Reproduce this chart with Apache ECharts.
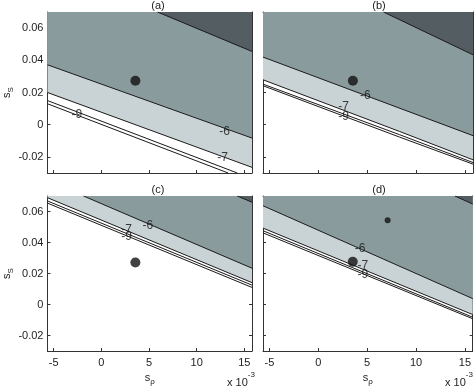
<!DOCTYPE html>
<html><head><meta charset="utf-8">
<script src="https://cdn.jsdelivr.net/npm/echarts@6/dist/echarts.min.js"></script>
<style>html,body{margin:0;padding:0;background:#fff}#c{width:474px;height:387px}</style>
</head><body><div id="c"></div>
<script>
// ---- data ----
const panelTitles = ['(a)', '(b)', '(c)', '(d)'];
const xTicks = [-5, 0, 5, 10, 15];
const yTicks = [-0.02, 0, 0.02, 0.04, 0.06];
const xRange = [-5.65, 15.8];
const yRange = [-0.03, 0.07];
const contourLevels = ['-5', '-6', '-7', '-8', '-9'];

// contour lines (s_rho x1e3, s_S) per panel
const a_lvl5 = [[5.89, 0.07], [15.8, 0.0455]];
const a_lvl6 = [[-5.65, 0.0372], [15.8, -0.0083]];
const a_lvl7 = [[-5.65, 0.020], [15.8, -0.0265]];
const a_lvl8 = [[-5.65, 0.015], [14.26, -0.03]];
const a_lvl9 = [[-5.65, 0.013], [13.3, -0.03]];

const b_lvl5 = [[6.66, 0.07], [15.8, 0.0434]];
const b_lvl6 = [[-5.65, 0.042], [15.8, -0.0068]];
const b_lvl7 = [[-5.65, 0.0279], [8.3, -0.0042], [15.8, -0.0218]];
const b_lvl8 = [[-5.65, 0.0252], [8.3, -0.0062], [15.8, -0.0235]];
const b_lvl9 = [[-5.65, 0.0242], [8.3, -0.0077], [15.8, -0.0245]];

const c_lvl5 = [[14.26, 0.07], [15.8, 0.066]];
const c_lvl6 = [[-1.87, 0.07], [15.8, 0.0234]];
const c_lvl7 = [[-5.65, 0.0689], [15.8, 0.0141]];
const c_lvl8 = [[-5.65, 0.0668], [15.8, 0.0125]];
const c_lvl9 = [[-5.65, 0.0654], [15.8, 0.011]];

const d_lvl5 = [[13.98, 0.07], [15.8, 0.0648]];
const d_lvl6 = [[-5.65, 0.0637], [15.8, 0.0038]];
const d_lvl7 = [[-5.65, 0.0493], [15.8, -0.0065]];
const d_lvl8 = [[-5.65, 0.0476], [15.8, -0.0082]];
const d_lvl9 = [[-5.65, 0.0462], [15.8, -0.0092]];

// contour labels [x, y, text]
const a_labels = [[12.93, -0.0042, '-6'], [12.72, -0.0206, '-7'], [-2.58, 0.0062, '-9']];
const b_labels = [[4.80, 0.0181, '-6'], [2.58, 0.0111, '-7'], [2.58, 0.0051, '-9']];
const c_labels = [[4.87, 0.0509, '-6'], [2.65, 0.0482, '-7'], [2.65, 0.0435, '-9']];
const d_labels = [[4.29, 0.0362, '-6'], [4.55, 0.0251, '-7'], [4.55, 0.0193, '-9']];

// marker points
const a_points = [[3.57, 0.0273]];
const b_points = [[3.53, 0.0273]];
const c_points = [[3.57, 0.0271]];
const d_points = [[3.53, 0.0276]];
const d_smallPoints = [[7.1, 0.0544]];

// ---- styling / layout ----
const grids = [
  {left: 42, top: 12, width: 210, height: 161},
  {left: 263, top: 12, width: 210, height: 161},
  {left: 42, top: 196, width: 210, height: 161},
  {left: 263, top: 196, width: 210, height: 161}
];
const fillLight = '#c9d3d5', fillMid = '#8a9b9d', fillDark = '#535d62';
const lineCol = '#1a1a1a', axisCol = '#333';
const font = 'Liberation Sans, Arial, sans-serif';

const panels = [
  {lines: [a_lvl5, a_lvl6, a_lvl7, a_lvl8, a_lvl9], labels: a_labels, pts: a_points, small: []},
  {lines: [b_lvl5, b_lvl6, b_lvl7, b_lvl8, b_lvl9], labels: b_labels, pts: b_points, small: []},
  {lines: [c_lvl5, c_lvl6, c_lvl7, c_lvl8, c_lvl9], labels: c_labels, pts: c_points, small: []},
  {lines: [d_lvl5, d_lvl6, d_lvl7, d_lvl8, d_lvl9], labels: d_labels, pts: d_points, small: d_smallPoints}
];

const xAxes = [], yAxes = [], series = [], titles = [];
grids.forEach((g, i) => {
  const showX = i >= 2, showY = i % 2 === 0;
  const common = {
    type: 'value', gridIndex: i, min: xRange[0], max: xRange[1],
    splitLine: {show: false},
    axisLine: {show: true, onZero: false, lineStyle: {color: axisCol, width: 1}},
    axisTick: {show: true, inside: true, length: 3, customValues: xTicks, lineStyle: {color: axisCol}},
  };
  xAxes.push(Object.assign({}, common, {
    position: 'bottom',
    axisLabel: {show: showX, customValues: xTicks, color: '#222', fontFamily: font, fontSize: 11, margin: 6},
    name: showX ? '{s|s}{sub|ρ}' : '', nameLocation: 'middle', nameGap: 19,
    nameTextStyle: {rich: {s: {fontFamily: font, fontSize: 11, color: '#222'}, sub: {fontFamily: font, fontSize: 8, color: '#222', verticalAlign: 'bottom', padding: [8, 0, 0, 0]}}}
  }));
  xAxes.push(Object.assign({}, common, {position: 'top', axisLabel: {show: false}}));
  const ycommon = {
    type: 'value', gridIndex: i, min: yRange[0], max: yRange[1],
    splitLine: {show: false},
    axisLine: {show: true, onZero: false, lineStyle: {color: axisCol, width: 1}},
    axisTick: {show: true, inside: true, length: 3, customValues: yTicks, lineStyle: {color: axisCol}},
  };
  yAxes.push(Object.assign({}, ycommon, {
    position: 'left',
    axisLabel: {show: showY, customValues: yTicks, color: '#222', fontFamily: font, fontSize: 11, margin: 4},
    name: showY ? '{s|s}{sub|S}' : '', nameLocation: 'middle', nameGap: 30, nameRotate: 90,
    nameTextStyle: {rich: {s: {fontFamily: font, fontSize: 11, color: '#222'}, sub: {fontFamily: font, fontSize: 8, color: '#222', padding: [8, 0, 0, 0]}}}
  }));
  yAxes.push(Object.assign({}, ycommon, {position: 'right', axisLabel: {show: false}}));

  titles.push({text: panelTitles[i], left: g.left + g.width / 2 + 6, top: g.top - 17, textAlign: 'center',
    textStyle: {fontFamily: font, fontSize: 11, fontWeight: 'normal', color: '#222'}});

  const p = panels[i];
  const xi = i * 2, yi = i * 2;
  const fill = (data, color) => ({
    type: 'line', xAxisIndex: xi, yAxisIndex: yi, data: data, symbol: 'none', silent: true,
    lineStyle: {width: 0}, areaStyle: {color: color, opacity: 1, origin: 'end'}, clip: true, z: 1
  });
  series.push(fill(p.lines[2], fillLight));
  series.push(fill(p.lines[1], fillMid));
  series.push(fill(p.lines[0], fillDark));
  p.lines.forEach((ln, k) => {
    series.push({type: 'line', name: contourLevels[k], xAxisIndex: xi, yAxisIndex: yi, data: ln, symbol: 'none', silent: true,
      lineStyle: {color: lineCol, width: 1}, clip: true, z: 3});
  });
  series.push({type: 'scatter', xAxisIndex: xi, yAxisIndex: yi, data: p.labels, symbolSize: 1, silent: true,
    itemStyle: {color: 'rgba(0,0,0,0)'}, z: 5,
    label: {show: true, position: 'inside', formatter: q => q.data[2], fontFamily: font, fontSize: 12, color: '#111'}});
  series.push({type: 'scatter', xAxisIndex: xi, yAxisIndex: yi, data: p.pts, symbolSize: 10, silent: true,
    itemStyle: {color: '#111'}, z: 6});
  if (p.small.length) series.push({type: 'scatter', xAxisIndex: xi, yAxisIndex: yi, data: p.small, symbolSize: 6, silent: true,
    itemStyle: {color: '#111'}, z: 6});
});

const sciText = (x) => ({type: 'text', left: x, top: 371, style: {
  text: '{a|x 10}{b|-3}', fill: '#222',
  rich: {a: {fontFamily: font, fontSize: 11, fill: '#222', padding: [6, 0, 0, 0]}, b: {fontFamily: font, fontSize: 8, fill: '#222', verticalAlign: 'top'}}
}});

const chart = echarts.init(document.getElementById('c'), null, {renderer: 'canvas'});
chart.setOption({
  animation: false,
  backgroundColor: '#fff',
  title: titles,
  grid: grids,
  xAxis: xAxes,
  yAxis: yAxes,
  series: series,
  graphic: [sciText(227), sciText(445)]
});
</script></body></html>
